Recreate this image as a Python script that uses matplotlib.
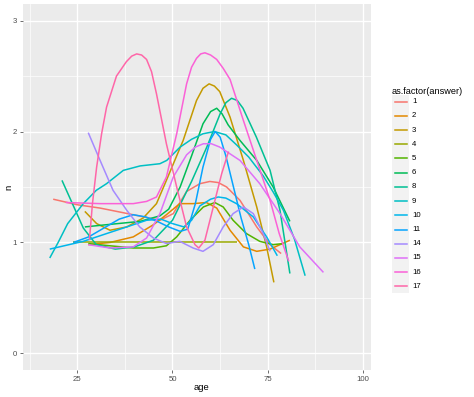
import numpy as np
import matplotlib
matplotlib.use("Agg")
import matplotlib.pyplot as plt
from matplotlib.lines import Line2D
from matplotlib.patches import Rectangle

plt.rcParams['font.family'] = ['Liberation Sans', 'DejaVu Sans']

# smoothed curves: (age, n) per answer level
answers = ['1', '2', '3', '4', '5', '6', '8', '9', '10', '11', '14', '15', '16', '17']

age_1 = [18.7, 25, 31.0, 39.7, 46.7, 50.2, 53.7, 57.2, 59.8, 62.0, 64.2, 67.7, 72.1, 75.6, 78.5]
n_1 = [1.39, 1.34, 1.31, 1.25, 1.20, 1.26, 1.46, 1.53, 1.55, 1.54, 1.50, 1.38, 1.14, 0.98, 0.90]

age_2 = [27.9, 33.6, 39.7, 45.0, 48.4, 51.9, 55.4, 58.9, 61.6, 65.1, 68.6, 72.1, 75.6, 80.8]
n_2 = [0.98, 1.00, 1.05, 1.16, 1.25, 1.35, 1.35, 1.36, 1.31, 1.11, 0.96, 0.92, 0.94, 1.02]

age_3 = [27.0, 30.1, 33.6, 38.0, 42.3, 45.8, 48.4, 52.8, 56.3, 58.0, 59.6, 61.0, 62.4, 65.1, 68.6, 72.1, 74.7, 76.6]
n_3 = [1.28, 1.17, 1.11, 1.14, 1.22, 1.35, 1.56, 1.92, 2.28, 2.39, 2.43, 2.41, 2.36, 2.13, 1.74, 1.32, 0.96, 0.64]

age_4 = [24.0, 35.0, 45.0, 55.0, 67.0]
n_4 = [1.0, 1.0, 1.0, 1.0, 1.0]

age_5 = [27.9, 33.6, 39.7, 45.0, 48.4, 51.1, 54.6, 58.1, 61.1, 63.3, 65.9, 69.4, 72.9, 76.4, 79.0]
n_5 = [0.99, 0.97, 0.95, 0.95, 0.97, 1.05, 1.20, 1.32, 1.36, 1.32, 1.20, 1.08, 1.01, 0.98, 0.99]

age_6 = [27.0, 32.7, 41.5, 46.7, 49.0, 52.0, 55.0, 58.0, 60.0, 61.6, 63.0, 64.6, 67.7, 72.1, 76.4, 80.8]
n_6 = [1.14, 1.16, 1.19, 1.24, 1.30, 1.50, 1.78, 2.07, 2.18, 2.21, 2.16, 2.06, 1.92, 1.74, 1.50, 1.19]

age_8 = [21.0, 24.0, 26.6, 30.0, 35.0, 40.0, 45.0, 50.0, 55.0, 59.0, 62.5, 64.0, 65.5, 67.0, 68.5, 72.0, 75.6, 78.2, 80.8]
n_8 = [1.56, 1.33, 1.13, 0.98, 0.94, 0.96, 1.02, 1.20, 1.55, 1.86, 2.16, 2.26, 2.30, 2.28, 2.21, 1.95, 1.65, 1.29, 0.72]

age_9 = [17.8, 20.0, 22.5, 26.6, 30.0, 32.7, 37.1, 41.5, 46.7, 48.5, 52.0, 55.0, 58.0, 61.0, 64.0, 66.8, 70.0, 73.8, 76.5, 79.1, 82.0, 84.8]
n_9 = [0.86, 1.00, 1.17, 1.35, 1.47, 1.53, 1.65, 1.69, 1.71, 1.74, 1.86, 1.93, 1.98, 2.00, 1.97, 1.88, 1.77, 1.60, 1.45, 1.29, 1.03, 0.70]

age_10 = [17.8, 26.6, 32.7, 38.0, 43.2, 47.0, 50.0, 53.0, 55.0, 57.2, 60.0, 62.0, 64.0, 66.8, 71.2, 74.7, 77.5]
n_10 = [0.94, 1.01, 1.08, 1.14, 1.20, 1.21, 1.17, 1.14, 1.20, 1.33, 1.39, 1.41, 1.40, 1.35, 1.23, 1.05, 0.88]

age_11 = [24.0, 28.0, 32.0, 36.0, 39.7, 43.0, 46.0, 49.0, 52.0, 54.0, 56.0, 58.0, 60.0, 61.2, 62.5, 64.0, 66.0, 68.0, 70.0, 71.6]
n_11 = [1.00, 1.05, 1.13, 1.21, 1.25, 1.23, 1.19, 1.14, 1.10, 1.12, 1.35, 1.68, 1.93, 2.00, 1.95, 1.78, 1.50, 1.22, 0.98, 0.76]

age_14 = [27.9, 31.0, 34.4, 38.0, 41.4, 45.0, 48.4, 51.9, 55.4, 58.0, 60.7, 63.3, 65.9, 68.6, 71.2, 73.8, 75.6]
n_14 = [1.99, 1.74, 1.47, 1.29, 1.14, 1.04, 0.99, 1.01, 0.95, 0.92, 0.98, 1.14, 1.26, 1.32, 1.26, 1.08, 0.92]

age_15 = [27.9, 33.6, 39.7, 43.2, 46.7, 50.2, 53.7, 56.0, 58.1, 60.2, 62.4, 67.7, 72.9, 78.2, 83.4, 89.6]
n_15 = [0.98, 0.95, 0.96, 1.04, 1.26, 1.59, 1.79, 1.86, 1.89, 1.89, 1.86, 1.74, 1.53, 1.26, 0.96, 0.73]

age_16 = [22.0, 31.0, 39.7, 43.2, 45.8, 48.4, 51.1, 53.7, 55.0, 56.3, 57.4, 58.5, 60.0, 61.6, 63.3, 65.1, 68.6, 72.1, 75.6, 78.0, 80.5]
n_16 = [1.36, 1.35, 1.35, 1.37, 1.41, 1.59, 1.98, 2.43, 2.58, 2.66, 2.70, 2.71, 2.69, 2.65, 2.57, 2.47, 2.10, 1.74, 1.38, 1.08, 0.83]

age_17 = [28.2, 29.0, 30.1, 31.4, 32.7, 35.3, 37.9, 39.3, 40.6, 41.9, 43.2, 44.5, 45.8, 48.4, 51.1, 53.7, 55.9, 56.9, 58.5, 60.7, 62.9, 64.7]
n_17 = [1.02, 1.35, 1.68, 1.98, 2.22, 2.50, 2.63, 2.68, 2.70, 2.69, 2.65, 2.54, 2.34, 1.89, 1.50, 1.14, 0.98, 0.95, 1.02, 1.32, 1.62, 1.82]

ages = [age_1, age_2, age_3, age_4, age_5, age_6, age_8, age_9, age_10, age_11, age_14, age_15, age_16, age_17]
ns = [n_1, n_2, n_3, n_4, n_5, n_6, n_8, n_9, n_10, n_11, n_14, n_15, n_16, n_17]


def hcl(h, c=100.0, l=65.0):
    # polar LUV -> sRGB, the way ggplot's hue palette does it
    hr = np.deg2rad(h)
    U, V = c * np.cos(hr), c * np.sin(hr)
    Xn, Yn, Zn = 95.047, 100.0, 108.883
    Y = Yn * ((l + 16) / 116) ** 3 if l > 8 else Yn * l / 903.3
    t = Xn + Yn + Zn
    x, y = Xn / t, Yn / t
    uN = 2 * x / (6 * y - x + 1.5)
    vN = 4.5 * y / (6 * y - x + 1.5)
    u = U / (13 * l) + uN
    v = V / (13 * l) + vN
    X = 9.0 * Y * u / (4 * v)
    Z = -X / 3 - 5 * Y + 3 * Y / v
    X, Y, Z = X / 100, Y / 100, Z / 100
    r = 3.240479 * X - 1.537150 * Y - 0.498535 * Z
    g = -0.969256 * X + 1.875992 * Y + 0.041556 * Z
    b = 0.055648 * X - 0.204043 * Y + 1.057311 * Z
    out = []
    for val in (r, g, b):
        val = 1.055 * val ** (1 / 2.4) - 0.055 if val > 0.00304 else 12.92 * val
        out.append(min(max(val, 0), 1))
    return tuple(out)


k = len(answers)
hues = np.linspace(15, 375, k + 1)[:k]
colors = [hcl(h) for h in hues]

W, H = 474, 397
fig = plt.figure(figsize=(W / 100, H / 100), dpi=100)
ax = fig.add_axes([22.7 / W, 1 - 370 / H, 348 / W, 366 / H])
ax.set_facecolor('#EBEBEB')

for a, n, col in zip(ages, ns, colors):
    ax.plot(a, n, color=col, lw=1.1, solid_capstyle='butt', solid_joinstyle='round', zorder=3)

ax.set_xlim(10.7, 102.0)
ax.set_ylim(-0.15, 3.15)
ax.set_xticks([25, 50, 75, 100])
ax.set_yticks([0, 1, 2, 3])
ax.set_xticks([12.5, 37.5, 62.5, 87.5], minor=True)
ax.set_yticks([0.5, 1.5, 2.5], minor=True)
ax.grid(which='major', color='white', lw=1.0)
ax.grid(which='minor', color='white', lw=0.5)
ax.set_axisbelow(True)
for s in ax.spines.values():
    s.set_visible(False)
ax.tick_params(which='major', length=2.2, width=0.5, color='#333333',
               labelsize=5.6, labelcolor='#4D4D4D', pad=1.8)
ax.tick_params(which='minor', length=0)

# axis titles
fig.text(201 / W, 1 - 388 / H, 'age', fontsize=6.8, ha='center', va='center')
fig.text(9 / W, 1 - 187 / H, 'n', fontsize=6.8, ha='center', va='center', rotation=90)

# legend drawn by hand, ggplot style
fig.text(392 / W, 1 - 92 / H, 'as.factor(answer)', fontsize=6.6, ha='left', va='center')
step = 14.2
for i, (lab, col) in enumerate(zip(answers, colors)):
    yc = 101.7 + i * step
    fig.add_artist(Rectangle((392 / W, 1 - (yc + step / 2) / H), 17 / W, step / H,
                             transform=fig.transFigure, facecolor='#F2F2F2', edgecolor='none'))
    fig.add_artist(Line2D([394.5 / W, 407 / W], [1 - yc / H, 1 - yc / H],
                          transform=fig.transFigure, color=col, lw=1.1))
    fig.text(412 / W, 1 - yc / H, lab, fontsize=5.6, ha='left', va='center')

fig.savefig('out.png', dpi=100)
